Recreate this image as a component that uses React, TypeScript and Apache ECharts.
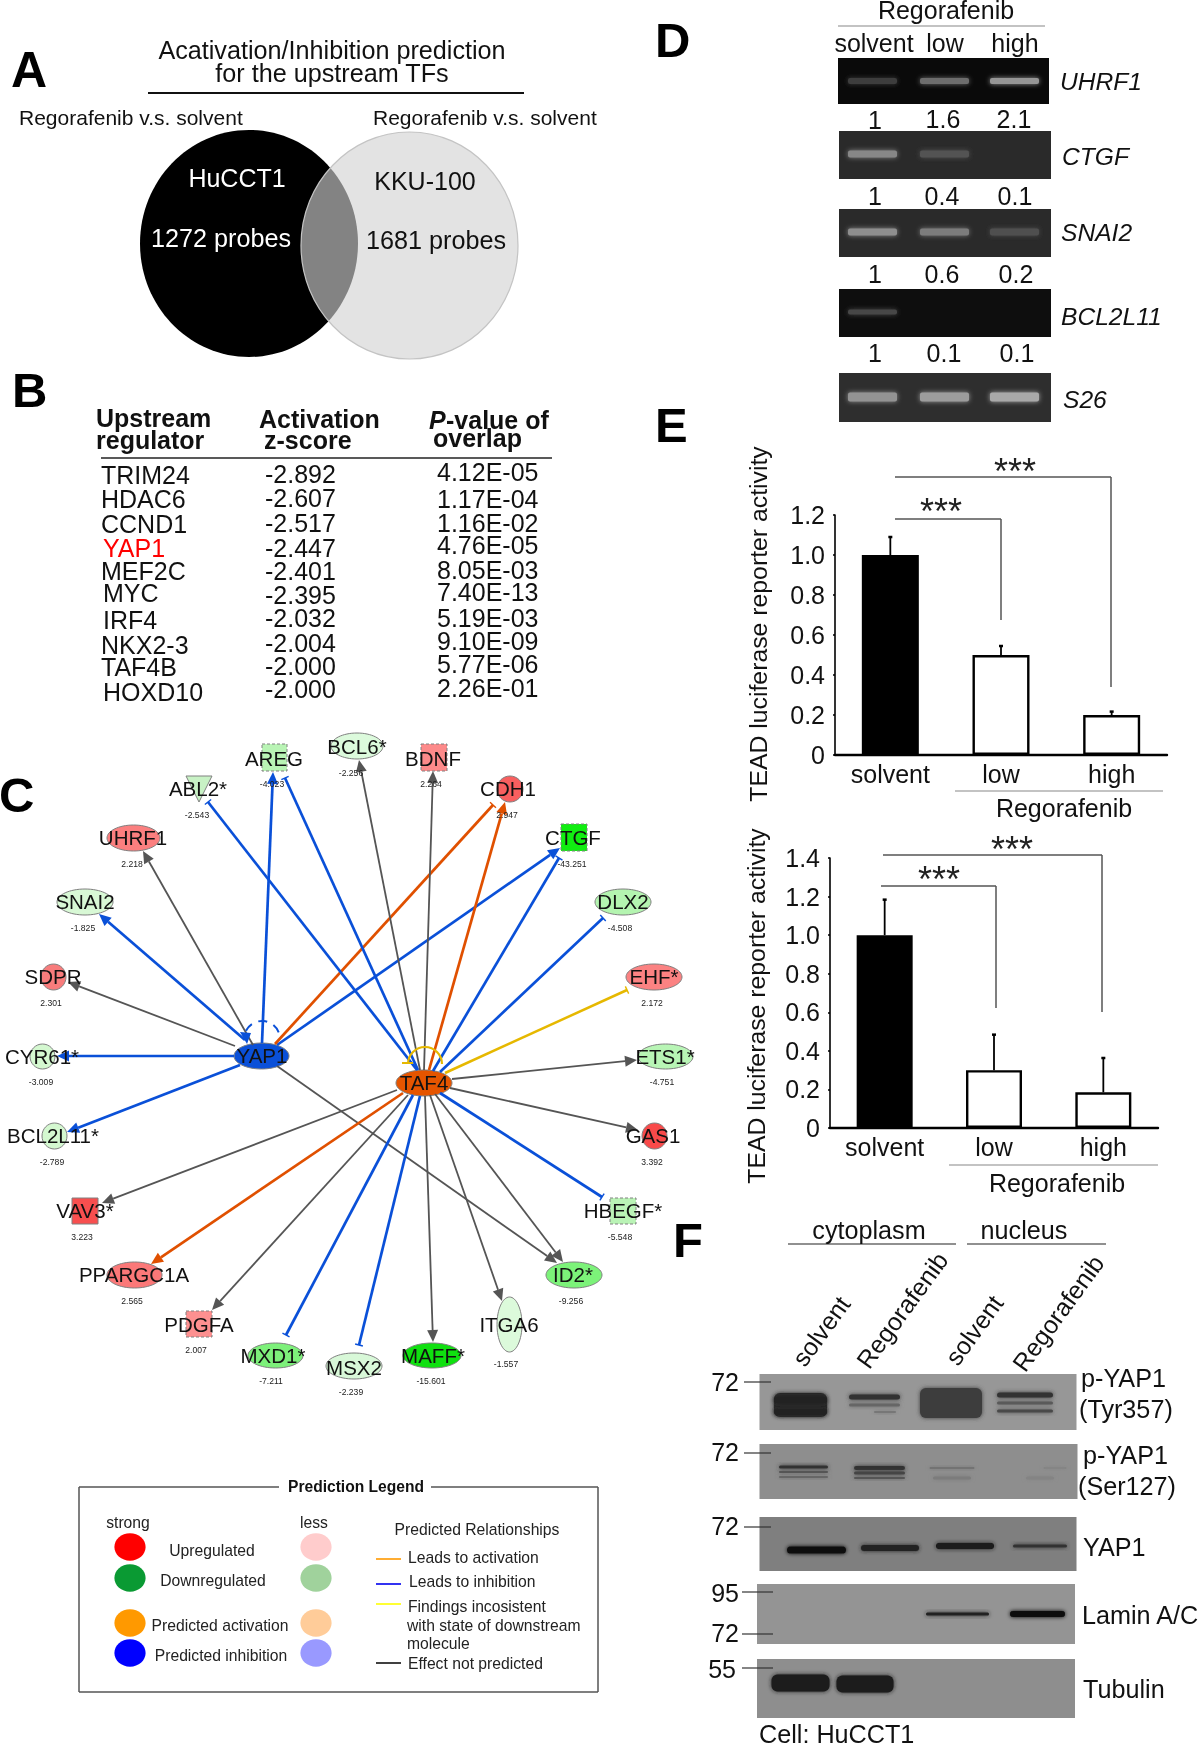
import React, { useEffect, useRef } from "react";
import * as echarts from "echarts";

const FONT = '"Liberation Sans", Arial, sans-serif';
const W = 1200;
const H = 1747;

// ---------- Panel B data
const tableRegulators = ["TRIM24", "HDAC6", "CCND1", "YAP1", "MEF2C", "MYC", "IRF4", "NKX2-3", "TAF4B", "HOXD10"];
const tableZScores = ["-2.892", "-2.607", "-2.517", "-2.447", "-2.401", "-2.395", "-2.032", "-2.004", "-2.000", "-2.000"];
const tablePValues = ["4.12E-05", "1.17E-04", "1.16E-02", "4.76E-05", "8.05E-03", "7.40E-13", "5.19E-03", "9.10E-09", "5.77E-06", "2.26E-01"];
const regulatorRowY = [484, 508, 533, 557, 580, 602, 629, 654, 676, 701];
const zScoreRowY = [483, 507, 532, 557, 580, 604, 627, 652, 675, 698];
const pValueRowY = [481, 508, 532, 554, 579, 601, 627, 650, 673, 697];

// ---------- Panel C data
const networkGenes = ["AREG", "ABL2*", "UHRF1", "SNAI2", "SDPR", "BCL6*", "BDNF", "CDH1", "CTGF", "DLX2", "EHF*", "ETS1*", "GAS1", "HBEGF*", "ID2*", "ITGA6", "MAFF*", "MSX2", "MXD1*", "PDGFA", "PPARGC1A", "VAV3*", "BCL2L11*", "CYR61*", "YAP1", "TAF4"];
const networkScores = ["-4.023", "-2.543", "2.218", "-1.825", "2.301", "-2.256", "2.264", "2.947", "-43.251", "-4.508", "2.172", "-4.751", "3.392", "-5.548", "-9.256", "-1.557", "-15.601", "-2.239", "-7.211", "2.007", "2.565", "3.223", "-2.789", "-3.009", "", ""];
// cx, cy, w, h, shape, fill, labelCx, labelBaseline, scoreCx, scoreCy
const networkLayout: any[] = [
  [274.5, 757.5, 25, 27, "dash", "#b9f4b5", 274, 766, 272, 784],
  [199, 789, 26, 26, "tri", "#c8f2c5", 198, 796, 197, 815],
  [133.5, 838, 53, 26, "ell", "#fb7f7f", 133, 845, 132, 864],
  [85, 902, 56, 26, "ell", "#d8f8d5", 85, 909, 83, 928],
  [53.5, 977, 25, 26, "ell", "#f87c7c", 53, 984, 51, 1003],
  [357, 746, 52, 26, "ell", "#dcfadc", 357, 754, 351, 773],
  [434, 757.5, 26, 27, "dash", "#fd8a8a", 433, 766, 431, 784],
  [510, 789, 26, 26, "ell", "#f85f5f", 508, 796, 507, 815],
  [574, 837.5, 26, 27, "dash", "#11ee11", 573, 845, 572, 864],
  [623, 902, 56, 26, "ell", "#b4f4b0", 623, 909, 620, 928],
  [654, 977, 56, 26, "ell", "#fb8282", 654, 984, 652, 1003],
  [665.5, 1056.5, 55, 25, "ell", "#b8f5b5", 665, 1064, 662, 1082],
  [654.5, 1136, 25, 26, "ell", "#f94a4a", 653, 1143, 652, 1162],
  [623, 1211, 26, 26, "dash", "#baf3b6", 623, 1218, 620, 1237],
  [574, 1275, 56, 26, "ell", "#7cf279", 573, 1282, 571, 1301],
  [509.5, 1324.5, 25, 55, "ell", "#dcfadb", 509, 1332, 506, 1364],
  [432, 1355.5, 58, 25, "ell", "#10e010", 433, 1363, 431, 1381],
  [354, 1366, 56, 26, "ell", "#d8f8d8", 354, 1375, 351, 1392],
  [275.5, 1355.5, 55, 25, "ell", "#7df07a", 273, 1363, 271, 1381],
  [199, 1324, 26, 26, "dash", "#fd9090", 199, 1332, 196, 1350],
  [134.5, 1275, 55, 26, "ell", "#fb7878", 134, 1282, 132, 1301],
  [85, 1211, 26, 26, "rect", "#f84f4f", 85, 1218, 82, 1237],
  [54.5, 1136, 25, 26, "ell", "#d4f8d0", 53, 1143, 52, 1162],
  [42.5, 1056.5, 25, 25, "ell", "#d4f8d0", 42, 1064, 41, 1082],
  [261.5, 1056, 55, 26, "ell", "#0a50d8", 262, 1063, 0, 0],
  [424, 1083, 56, 26, "ell", "#e65500", 424, 1090, 0, 0],
];
const edgeColors: any = { b: "#0a50d8", o: "#e05000", g: "#555555", y: "#e6b800" };
const edgeWidths: any = { b: 2.7, o: 2.7, g: 1.8, y: 2.5 };
// x1, y1, x2, y2, colour key, head (a arrow, t inhibition bar)
const networkEdges: any[] = [
  [245, 1040, 99, 914, "b", "a"],
  [253, 1045, 143, 851, "g", "a"],
  [235, 1046, 68, 982, "g", "a"],
  [262, 1043, 273, 772, "b", "a"],
  [277, 1045, 560, 848, "b", "a"],
  [275, 1044, 493, 805, "o", "t"],
  [234, 1056, 57, 1056, "b", "a"],
  [240, 1065, 67, 1132, "b", "a"],
  [277, 1066, 557, 1263, "g", "a"],
  [417, 1070, 208, 802, "b", "t"],
  [418, 1070, 285, 778, "b", "t"],
  [420, 1070, 359, 760, "g", "a"],
  [424, 1070, 433, 771, "g", "a"],
  [429, 1070, 505, 802, "o", "a"],
  [433, 1071, 559, 858, "b", "t"],
  [440, 1072, 603, 918, "b", "t"],
  [445, 1073, 627, 990, "y", "t"],
  [452, 1079, 637, 1060, "g", "a"],
  [450, 1088, 638, 1130, "g", "a"],
  [440, 1093, 602, 1197, "b", "t"],
  [435, 1094, 563, 1262, "g", "a"],
  [430, 1095, 502, 1301, "g", "a"],
  [425, 1096, 433, 1342, "g", "a"],
  [420, 1096, 359, 1345, "b", "t"],
  [413, 1095, 286, 1335, "b", "t"],
  [408, 1095, 212, 1310, "g", "a"],
  [403, 1093, 151, 1264, "o", "a"],
  [397, 1090, 102, 1203, "g", "a"],
];
// cx, cy, r, start deg, end deg, colour key, dashed 1/0
const networkLoops: any[] = [
  [262, 1039, 18, 207, 342, "b", 1],
  [425, 1064, 17, 180, 360, "y", 0],
];

// ---------- Panel D data
const gelGenes = ["UHRF1", "CTGF", "SNAI2", "BCL2L11", "S26"];
const gelRatios = [["1", "1.6", "2.1"], ["1", "0.4", "0.1"], ["1", "0.6", "0.2"], ["1", "0.1", "0.1"]];
const gelIntensity = [[0.3, 0.6, 0.85], [0.7, 0.3, 0], [0.75, 0.62, 0.28], [0.35, 0, 0], [0.78, 0.85, 0.95]];
const gelConditions = ["solvent", "low", "high"];

// ---------- Panel E data
const reporterCategories = ["solvent", "low", "high"];
const reporterMeansHuCCT = [1.0, 0.5, 0.2];
const reporterTopsHuCCT = [1.09, 0.545, 0.217];
const reporterMeansKKU = [1.0, 0.3, 0.185];
const reporterTopsKKU = [1.184, 0.484, 0.363];

// ---------- Panel F data
const blotLaneLabels = ["solvent", "Regorafenib", "solvent", "Regorafenib"];
// x, y centre, width, height, colour
const blotBands: any[] = [
  [800.5, 1405, 53, 24, "#2b2b2b"], [800.5, 1400, 53, 7, "#222"], [800.5, 1412, 53, 6, "#222"],
  [874.5, 1397, 51, 5, "#333"], [874.5, 1405, 51, 3, "#666"], [885, 1412, 22, 2, "#777"],
  [951, 1403, 62, 30, "#3c3c3c"],
  [1025, 1395, 56, 5, "#333"], [1025, 1403, 56, 3, "#5a5a5a"], [1025, 1411, 56, 3, "#484848"],
  [803.5, 1467, 49, 3, "#333"], [803.5, 1472, 49, 2, "#555"], [803.5, 1477, 49, 2, "#666"],
  [879.5, 1468, 51, 4, "#333"], [879.5, 1473, 51, 3, "#444"], [879.5, 1478, 51, 2, "#555"],
  [952, 1468, 45, 2, "#737373"], [952, 1478, 38, 3, "#7c7c7c"],
  [1040, 1478, 28, 3, "#848484"], [1055, 1468, 23, 2, "#858585"],
  [816.5, 1550, 59, 7, "#111"], [890, 1548, 58, 6, "#222"], [965, 1546, 58, 6, "#1a1a1a"], [1040, 1546, 54, 3, "#333"],
  [957.5, 1614, 63, 3, "#222"], [1037.5, 1614, 55, 6, "#0a0a0a"],
  [800.5, 1683, 58, 17, "#1a1a1a"], [865, 1684, 57, 17, "#1a1a1a"],
];
const blotBackdrops: any[] = [
  [759.5, 1374, 317, 56, "#979797"],
  [759.5, 1444, 318, 55, "#8e8e8e"],
  [759.5, 1517, 317, 54, "#7f7f7f"],
  [757, 1584, 318, 60, "#949494"],
  [757, 1659, 318, 59, "#8e8e8e"],
];
// label, label right x, baseline, tick x1, tick x2, tick y
const blotMarkers: any[] = [
  ["72", 740, 1391, 744, 771, 1382],
  ["72", 740, 1461, 744, 771, 1453],
  ["72", 740, 1535, 744, 771, 1527],
  ["95", 740, 1602, 742, 773, 1592],
  ["72", 740, 1642, 742, 773, 1634],
  ["55", 737, 1678, 742, 773, 1668],
];
const blotNames: any[] = [
  ["p-YAP1", 1081, 1387], ["(Tyr357)", 1079, 1418], ["p-YAP1", 1083, 1464], ["(Ser127)", 1078, 1495],
  ["YAP1", 1083, 1556], ["Lamin A/C", 1082, 1624], ["Tubulin", 1083, 1698], ["Cell: HuCCT1", 759, 1743],
];

// ---------- Legend
const legendRows = ["Upregulated", "Downregulated", "Predicted activation", "Predicted inhibition"];
const legendStrong = ["#ff0000", "#0a9a33", "#ff9900", "#0000ff"];
const legendLess = ["#ffcccc", "#a0d29c", "#ffcc99", "#9999ff"];

// ---------- helpers
const fontOf = (size: number, weight = "normal", style = "normal") => `${style} ${weight} ${size}px ${FONT}`;
const CENTRAL = 0.3465;

function T(text: string, x: number, baseline: number, size: number, o: any = {}) {
  return {
    type: "text",
    z: o.z ?? 10,
    silent: true,
    style: {
      text,
      x,
      y: baseline - CENTRAL * size,
      fill: o.fill ?? "#111",
      font: fontOf(size, o.weight, o.fstyle),
      textAlign: o.align ?? "left",
      textVerticalAlign: "middle",
      align: o.align ?? "left",
      verticalAlign: "middle",
    },
  };
}
function Rotated(text: string, x: number, y: number, size: number, deg: number) {
  return {
    type: "text",
    z: 10,
    silent: true,
    x,
    y,
    rotation: (deg * Math.PI) / 180,
    style: {
      text,
      x: 0,
      y: 0,
      fill: "#111",
      font: fontOf(size),
      textAlign: "center",
      textVerticalAlign: "middle",
      align: "center",
      verticalAlign: "middle",
    },
  };
}
function L(x1: number, y1: number, x2: number, y2: number, stroke = "#111", lineWidth = 1.5) {
  return { type: "line", z: 9, silent: true, shape: { x1, y1, x2, y2 }, style: { stroke, lineWidth } };
}
function E(cx: number, cy: number, rx: number, ry: number, style: any, z = 4) {
  return { type: "ellipse", z, silent: true, shape: { cx, cy, rx, ry }, style };
}
function R(x: number, y: number, width: number, height: number, fill: string, z = 5, r = 0, blur = 0) {
  return {
    type: "rect",
    z,
    silent: true,
    shape: { x, y, width, height, r },
    style: blur ? { fill, shadowBlur: blur, shadowColor: fill } : { fill },
  };
}

function panelA() {
  return [
    T("A", 11, 87, 50, { weight: "bold", fill: "#000" }),
    T("Acativation/Inhibition prediction", 332, 59, 25.2, { align: "center" }),
    T("for the upstream TFs", 332, 82, 25.2, { align: "center" }),
    L(148, 93, 524, 93, "#111", 2),
    T("Regorafenib v.s. solvent", 19, 125, 21),
    T("Regorafenib v.s. solvent", 373, 125, 21),
    E(249, 243.5, 109, 113.5, { fill: "#000" }, 3),
    E(409.5, 245.5, 108.5, 113.5, { fill: "rgba(210,210,210,0.624)", stroke: "#c4c4c4", lineWidth: 1.2 }, 4),
    T("HuCCT1", 237, 187, 25, { align: "center", fill: "#fff" }),
    T("1272 probes", 221, 247, 25.2, { align: "center", fill: "#fff" }),
    T("KKU-100", 425, 190, 25, { align: "center" }),
    T("1681 probes", 436, 249, 25.2, { align: "center" }),
  ];
}

function panelB() {
  const els: any[] = [
    T("B", 12, 407, 49, { weight: "bold", fill: "#000" }),
    T("Upstream", 96, 427, 25, { weight: "bold" }),
    T("regulator", 96, 449, 25, { weight: "bold" }),
    T("Activation", 259, 428, 25, { weight: "bold" }),
    T("z-score", 264, 449, 25, { weight: "bold" }),
    T("P", 429, 429, 25, { weight: "bold", fstyle: "italic" }),
    T("-value of", 446, 429, 25, { weight: "bold" }),
    T("overlap", 433, 447, 25, { weight: "bold" }),
    L(101, 458, 552, 458, "#222", 1.5),
  ];
  tableRegulators.forEach((name, i) => {
    els.push(T(name, name === "YAP1" || name === "MYC" || name === "IRF4" || name === "HOXD10" ? 103 : 101, regulatorRowY[i], 25, { fill: name === "YAP1" ? "#ff0000" : "#111" }));
    els.push(T(tableZScores[i], 265, zScoreRowY[i], 25));
    els.push(T(tablePValues[i], 437, pValueRowY[i], 25));
  });
  return els;
}

function panelCFrame() {
  return [T("C", -1, 812, 49, { weight: "bold", fill: "#000" })];
}

function legend() {
  const els: any[] = [
    L(79, 1487, 279, 1487, "#555", 1.5),
    L(431, 1487, 598, 1487, "#555", 1.5),
    L(79, 1487, 79, 1692, "#555", 1.5),
    L(598, 1487, 598, 1692, "#555", 1.5),
    L(79, 1692, 598, 1692, "#555", 1.5),
    T("Prediction Legend", 356, 1492, 15.6, { align: "center", weight: "bold" }),
    T("strong", 128, 1528, 15.7, { align: "center", fill: "#222" }),
    T("less", 314, 1528, 15.7, { align: "center", fill: "#222" }),
    T("Predicted Relationships", 477, 1535, 15.7, { align: "center", fill: "#222" }),
  ];
  const rowY = [1547, 1578, 1623, 1653];
  const textY = [1556, 1586, 1631, 1661];
  const textX = [212, 213, 220, 221];
  legendRows.forEach((label, i) => {
    els.push(E(130, rowY[i], 15.6, 13.7, { fill: legendStrong[i] }));
    els.push(E(316, rowY[i], 15.6, 13.7, { fill: legendLess[i] }));
    els.push(T(label, textX[i], textY[i], 15.7, { align: "center", fill: "#222" }));
  });
  [[1559, "#ff9900"], [1584, "#0000ee"], [1604, "#ffff00"], [1663, "#111111"]].forEach(([y, c]: any) => els.push(L(376, y, 401, y, c, 1.6)));
  [["Leads to activation", 408, 1563], ["Leads to inhibition", 409, 1587], ["Findings incosistent", 408, 1612], ["with state of downstream", 407, 1631], ["molecule", 407, 1649], ["Effect not predicted", 408, 1669]].forEach(([t, x, y]: any) =>
    els.push(T(t, x, y, 15.7, { fill: "#222" }))
  );
  return els;
}

function panelD() {
  const els: any[] = [
    T("D", 655, 57, 49, { weight: "bold", fill: "#000" }),
    T("Regorafenib", 946, 19, 25, { align: "center" }),
    L(838, 26, 1045, 26, "#888", 1.2),
    T(gelConditions[0], 874, 52, 25, { align: "center" }),
    T(gelConditions[1], 945, 52, 25, { align: "center" }),
    T(gelConditions[2], 1015, 52, 25, { align: "center" }),
  ];
  const boxes = [
    [838, 58, 211, 46, 10],
    [839, 131, 212, 48, 42],
    [839, 209, 212, 48, 42],
    [839, 289, 212, 48, 14],
    [839, 373, 212, 49, 46],
  ];
  const lanes = [[848, 49], [920, 49], [990, 49]];
  const bandY = [81, 154, 232, 312, 397];
  const bandH = [6, 7, 7, 5, 9];
  const labelX = [1060, 1062, 1061, 1061, 1063];
  const labelY = [90, 165, 241, 325, 408];
  boxes.forEach(([x, y, w, h, level], i) => {
    els.push(R(x, y, w, h, `rgb(${level},${level},${level})`, 5));
    gelIntensity[i].forEach((v, j) => {
      if (v <= 0) return;
      const g = Math.round(level + v * (175 - level));
      els.push(R(lanes[j][0], bandY[i] - bandH[i] / 2, lanes[j][1], bandH[i], `rgb(${g},${g},${g})`, 6, 2, 5));
    });
    els.push(T(gelGenes[i], labelX[i], labelY[i], 24.6, { fstyle: "italic" }));
  });
  const ratioY = [[129, 128, 128], [205, 205, 205], [283, 283, 283], [362, 362, 362]];
  const ratioX = [[875, 943, 1014], [875, 942, 1015], [875, 942, 1016], [875, 944, 1017]];
  gelRatios.forEach((row, i) =>
    row.forEach((t, j) => els.push(T(t, ratioX[i][j], ratioY[i][j], 25, { align: "center", z: 3 })))
  );
  return els;
}

function panelE() {
  const star = (x: number, y: number) => T("***", x, y, 36, { align: "center", fill: "#222" });
  const g = "#555";
  return [
    T("E", 655, 442, 49, { weight: "bold", fill: "#000" }),
    Rotated("TEAD luciferase reporter activity", 758, 624, 24.8, 90),
    L(895, 477, 1111, 477, g),
    L(1111, 477, 1111, 687, g),
    L(895, 519, 1001, 519, g),
    L(1001, 519, 1001, 620, g),
    star(1015, 484),
    star(941, 524),
    L(955, 791, 1163, 791, "#888", 1.2),
    T("Regorafenib", 1064, 817, 25, { align: "center" }),

    Rotated("TEAD luciferase reporter activity", 756, 1006, 24.8, 90),
    L(883, 855, 1102, 855, g),
    L(1102, 855, 1102, 1012, g),
    L(881, 886, 996, 886, g),
    L(996, 886, 996, 1008, g),
    star(1012, 862),
    star(939, 892),
    L(949, 1165, 1158, 1165, "#888", 1.2),
    T("Regorafenib", 1057, 1192, 25, { align: "center" }),
  ];
}

function panelF() {
  const els: any[] = [
    T("F", 673, 1257, 49, { weight: "bold", fill: "#000" }),
    T("cytoplasm", 869, 1239, 25.2, { align: "center" }),
    T("nucleus", 1024, 1239, 25.2, { align: "center" }),
    L(788, 1244, 956, 1244, "#222", 1.2),
    L(967, 1244, 1106, 1244, "#222", 1.2),
  ];
  const labelCentre = [[821, 1331], [902, 1310], [974, 1330], [1058, 1313]];
  blotLaneLabels.forEach((t, i) => els.push(Rotated(t, labelCentre[i][0], labelCentre[i][1], 25, 54)));
  blotBackdrops.forEach(([x, y, w, h, c]) => els.push(R(x, y, w, h, c, 5)));
  blotBands.forEach(([x, y, w, h, c]) => els.push(R(x - w / 2, y - h / 2, w, h, c, 6, Math.min(h / 2, 6), 4)));
  blotMarkers.forEach(([t, rx, b, x1, x2, y]) => {
    els.push(T(t, rx - 1, b, 25, { align: "right" }));
    els.push(L(x1, y, x2, y, "#333", 1.2));
  });
  blotNames.forEach(([t, x, b]) => els.push(T(t, x, b, 25.2)));
  return els;
}

const networkNodeData = networkLayout.map((n, i) => [n[0], n[1], i]);
const networkEdgeData = networkEdges.map((e) => [e[0], e[1], e[2], e[3], e[4], e[5]]);

function renderNode(_p: any, api: any) {
  const i = api.value(2);
  const n = networkLayout[i];
  const [cx, cy] = api.coord([n[0], n[1]]);
  const w = n[2];
  const h = n[3];
  const stroke = { stroke: "#808080", lineWidth: 1 };
  if (n[4] === "ell") return { type: "ellipse", shape: { cx, cy, rx: w / 2, ry: h / 2 }, style: { fill: n[5], ...stroke } };
  if (n[4] === "tri")
    return {
      type: "polygon",
      shape: { points: [[cx - w / 2, cy - h / 2], [cx + w / 2, cy - h / 2], [cx, cy + h / 2]] },
      style: { fill: n[5], ...stroke },
    };
  return {
    type: "rect",
    shape: { x: cx - w / 2, y: cy - h / 2, width: w, height: h },
    style: { fill: n[5], ...stroke, lineDash: n[4] === "dash" ? [3, 2] : undefined },
  };
}

function renderNodeText(_p: any, api: any) {
  const i = api.value(2);
  const n = networkLayout[i];
  const [lx, ly] = api.coord([n[6], n[7]]);
  const children: any[] = [
    {
      type: "text",
      style: {
        text: networkGenes[i],
        x: lx,
        y: ly - CENTRAL * 20.5,
        fill: "#111",
        font: fontOf(20.5),
        textAlign: "center",
        textVerticalAlign: "middle",
        align: "center",
        verticalAlign: "middle",
      },
    },
  ];
  if (networkScores[i]) {
    const [sx, sy] = api.coord([n[8], n[9]]);
    children.push({
      type: "text",
      style: {
        text: networkScores[i],
        x: sx,
        y: sy,
        fill: "#222",
        font: fontOf(8.6),
        textAlign: "center",
        textVerticalAlign: "middle",
        align: "center",
        verticalAlign: "middle",
      },
    });
  }
  return { type: "group", children };
}

function renderEdge(_p: any, api: any) {
  const a = api.coord([api.value(0), api.value(1)]);
  const b = api.coord([api.value(2), api.value(3)]);
  const e = networkEdges[_p.dataIndex];
  const color = edgeColors[e[4]];
  const lw = edgeWidths[e[4]];
  const len = Math.hypot(b[0] - a[0], b[1] - a[1]) || 1;
  const ux = (b[0] - a[0]) / len;
  const uy = (b[1] - a[1]) / len;
  const nx = -uy;
  const ny = ux;
  if (e[5] === "a") {
    const al = 12;
    const aw = 5.5;
    const bx = b[0] - ux * al;
    const by = b[1] - uy * al;
    return {
      type: "group",
      children: [
        { type: "line", shape: { x1: a[0], y1: a[1], x2: bx, y2: by }, style: { stroke: color, lineWidth: lw } },
        {
          type: "polygon",
          shape: { points: [[b[0], b[1]], [bx + nx * aw, by + ny * aw], [bx - nx * aw, by - ny * aw]] },
          style: { fill: color },
        },
      ],
    };
  }
  const tl = 4;
  return {
    type: "group",
    children: [
      { type: "line", shape: { x1: a[0], y1: a[1], x2: b[0], y2: b[1] }, style: { stroke: color, lineWidth: lw } },
      { type: "line", shape: { x1: b[0] + nx * tl, y1: b[1] + ny * tl, x2: b[0] - nx * tl, y2: b[1] - ny * tl }, style: { stroke: color, lineWidth: 1.4 } },
    ],
  };
}

function renderLoop(p: any, api: any) {
  const l = networkLoops[p.dataIndex];
  const [cx, cy] = api.coord([l[0], l[1]]);
  const color = edgeColors[l[5]];
  const children: any[] = [
    {
      type: "arc",
      shape: { cx, cy, r: l[2], startAngle: (l[3] * Math.PI) / 180, endAngle: (l[4] * Math.PI) / 180, clockwise: true },
      style: { stroke: color, lineWidth: l[6] ? 2 : 2.2, fill: "none", lineDash: l[6] ? [9, 7] : undefined },
    },
  ];
  if (l[6]) {
    children.push({
      type: "polygon",
      shape: { points: [[cx - 15, cy + 5], [cx - 22, cy - 7], [cx - 11, cy - 6]] },
      style: { fill: color },
    });
  } else {
    children.push({
      type: "line",
      shape: { x1: cx - 23, y1: cy - 1, x2: cx - 12, y2: cy - 1 },
      style: { stroke: color, lineWidth: 2 },
    });
  }
  return { type: "group", children };
}

function renderError(_p: any, api: any) {
  const x = api.value(0);
  const base = api.coord([x, api.value(1)]);
  const top = api.coord([x, api.value(2)]);
  return {
    type: "group",
    children: [
      { type: "line", shape: { x1: base[0], y1: base[1], x2: top[0], y2: top[1] }, style: { stroke: "#000", lineWidth: 1.8 } },
      { type: "line", shape: { x1: top[0] - 2, y1: top[1], x2: top[0] + 2, y2: top[1] }, style: { stroke: "#000", lineWidth: 2.5 } },
    ],
  };
}

function reporterBars(idx: number, means: number[], tops: number[], barWidth: number) {
  return [
    {
      type: "bar",
      xAxisIndex: idx,
      yAxisIndex: idx,
      barWidth,
      silent: true,
      data: means.map((v, i) => ({
        value: v,
        itemStyle: { color: i === 0 ? "#000" : "#fff", borderColor: "#000", borderWidth: 2.4 },
      })),
    },
    {
      type: "custom",
      xAxisIndex: idx,
      yAxisIndex: idx,
      silent: true,
      z: 1,
      renderItem: renderError,
      encode: { x: 0, y: [1, 2] },
      data: means.map((v, i) => [i, v, tops[i]]),
    },
  ];
}

function catAxis(gridIndex: number) {
  return {
    type: "category",
    gridIndex,
    data: reporterCategories,
    axisLine: { lineStyle: { color: "#000", width: 2.4 } },
    axisTick: { show: false },
    axisLabel: { fontFamily: FONT, fontSize: 25, color: "#111", margin: 6, interval: 0 },
  };
}
function valAxis(gridIndex: number, max: number) {
  return {
    type: "value",
    gridIndex,
    min: 0,
    max,
    interval: 0.2,
    splitLine: { show: false },
    axisLine: { show: true, lineStyle: { color: "#000", width: 1.6 } },
    axisTick: { show: true, length: 2, lineStyle: { color: "#000", width: 1.5 } },
    axisLabel: {
      fontFamily: FONT,
      fontSize: 25,
      color: "#111",
      margin: 10,
      formatter: (v: number) => (v === 0 ? "0" : v.toFixed(1)),
    },
  };
}

function buildOption(): any {
  return {
    animation: false,
    backgroundColor: "#ffffff",
    tooltip: { show: false },
    grid: [
      { left: 835, top: 515, width: 332, height: 240 },
      { left: 830, top: 858, width: 328, height: 270 },
      { left: 0, top: 0, width: W, height: H },
    ],
    xAxis: [catAxis(0), catAxis(1), { type: "value", gridIndex: 2, min: 0, max: W, show: false }],
    yAxis: [valAxis(0, 1.2), valAxis(1, 1.4), { type: "value", gridIndex: 2, min: 0, max: H, inverse: true, show: false }],
    graphic: {
      elements: [...panelA(), ...panelB(), ...panelCFrame(), ...legend(), ...panelD(), ...panelE(), ...panelF()],
    },
    series: [
      ...reporterBars(0, reporterMeansHuCCT, reporterTopsHuCCT, 57),
      ...reporterBars(1, reporterMeansKKU, reporterTopsKKU, 56),
      { type: "custom", xAxisIndex: 2, yAxisIndex: 2, silent: true, z: 2, clip: false, renderItem: renderNode, data: networkNodeData },
      { type: "custom", xAxisIndex: 2, yAxisIndex: 2, silent: true, z: 3, clip: false, renderItem: renderEdge, data: networkEdgeData },
      { type: "custom", xAxisIndex: 2, yAxisIndex: 2, silent: true, z: 3, clip: false, renderItem: renderLoop, data: networkLoops.map((l) => [l[0], l[1]]) },
      { type: "custom", xAxisIndex: 2, yAxisIndex: 2, silent: true, z: 4, clip: false, renderItem: renderNodeText, data: networkNodeData },
    ],
  };
}

export default function App() {
  const ref = useRef<HTMLDivElement>(null);
  useEffect(() => {
    const chart = echarts.init(ref.current as HTMLDivElement, undefined, { renderer: "svg", width: W, height: H });
    chart.setOption(buildOption());
    return () => chart.dispose();
  }, []);
  return <div ref={ref} style={{ position: "absolute", left: 0, top: 0, width: W, height: H, background: "#fff", filter: "blur(0.45px)" }} />;
}
